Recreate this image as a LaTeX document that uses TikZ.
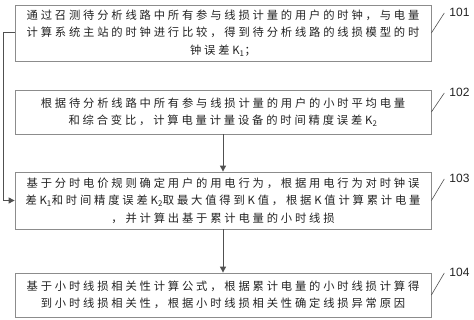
\documentclass[tikz,border=0pt]{standalone}
\usepackage{fontspec}
\setmainfont{Noto Sans CJK SC}
\newfontfamily\labfont{Liberation Sans}
\newfontfamily\cjkt[LetterSpace=25]{Noto Sans CJK SC}
\usetikzlibrary{arrows.meta}
\definecolor{boxgray}{HTML}{8C8C8C}
\definecolor{conngray}{HTML}{505050}
\definecolor{textgray}{HTML}{222222}
\begin{document}
\begin{tikzpicture}[x=1pt,y=-1pt,
  box/.style={draw=boxgray, line width=0.8pt, minimum width=416pt, inner sep=0pt, align=center,
    font=\cjkt\fontsize{11.3}{17.5}\selectfont, text=textgray},
  conn/.style={draw=conngray, line width=1pt, -{Triangle[length=6pt,width=6pt]}},
  lab/.style={inner sep=0pt, font=\labfont\fontsize{12}{12}\selectfont, text=textgray},
  leader/.style={draw=conngray, line width=0.6pt}]
\useasboundingbox (0,0) rectangle (474,320);
\node[box, minimum height=56pt] (b1) at (223,33) {通过召测待分析线路中所有参与线损计量的用户的时钟，与电量\\计算系统主站的时钟进行比较，得到待分析线路的线损模型的时\\钟误差K\textsubscript{1}；};
\node[box, minimum height=44pt] (b2) at (223,112) {根据待分析线路中所有参与线损计量的用户的小时平均电量\\和综合变比，计算电量计量设备的时间精度误差K\textsubscript{2}};
\node[box, minimum height=57pt] (b3) at (223,200.5) {基于分时电价规则确定用户的用电行为，根据用电行为对时钟误\\差K\textsubscript{1}和时间精度误差K\textsubscript{2}取最大值得到K值，根据K值计算累计电量\\，并计算出基于累计电量的小时线损};
\node[box, minimum height=44pt] (b4) at (223,295) {基于小时线损相关性计算公式，根据累计电量的小时线损计算得\\到小时线损相关性，根据小时线损相关性确定线损异常原因};
\draw[conn] (b2.south) -- (b3.north);
\draw[conn] (b3.south) -- (b4.north);
\draw[conn] (b1.west) -- ++(-11,0) |- (b3.west);
\node[lab] (l1) at (459.5,12) {101};
\node[lab] (l2) at (459.5,92) {102};
\node[lab] (l3) at (459.5,178) {103};
\node[lab] (l4) at (459.5,272) {104};
\draw[leader] (b1.east) -- ([xshift=-5pt,yshift=-1pt]l1.west);
\draw[leader] (b2.east) -- ([xshift=-5pt,yshift=-1pt]l2.west);
\draw[leader] (b3.east) -- ([xshift=-5pt,yshift=-1pt]l3.west);
\draw[leader] (b4.east) -- ([xshift=-5pt,yshift=-1pt]l4.west);
\end{tikzpicture}
\end{document}
